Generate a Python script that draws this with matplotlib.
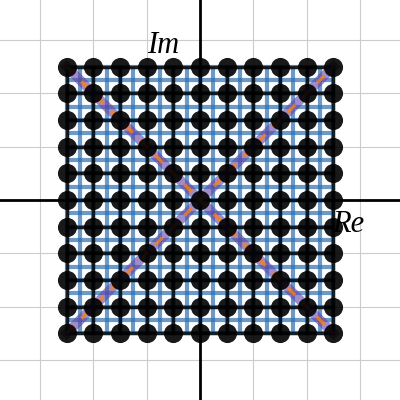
import numpy as np
import matplotlib
matplotlib.use("Agg")
import matplotlib.pyplot as plt

xs = list(range(-5, 6))
ys = list(range(-5, 6))
blue_lines = [i / 2 for i in range(-10, 11)]
grid_ticks = [-6, -4, -2, 2, 4, 6]

fig = plt.figure(figsize=(4, 4), dpi=100)
ax = fig.add_axes([0, 0, 1, 1])
ax.set_xlim(-7.5, 7.5)
ax.set_ylim(-7.5, 7.5)
ax.axis("off")

for g in grid_ticks:
    ax.axvline(g, color="#cccccc", lw=0.8, zorder=0)
    ax.axhline(g, color="#cccccc", lw=0.8, zorder=0)
ax.axvline(0, color="black", lw=2, zorder=1)
ax.axhline(0, color="black", lw=2, zorder=1)

for b in blue_lines:
    ax.plot([b, b], [-5, 5], color="#2d70b3", alpha=0.7, lw=3, zorder=2, solid_capstyle="butt")
    ax.plot([-5, 5], [b, b], color="#2d70b3", alpha=0.7, lw=3, zorder=2, solid_capstyle="butt")
for v in xs:
    ax.plot([v, v], [-5, 5], color="black", alpha=0.8, lw=2.5, zorder=3)
    ax.plot([-5, 5], [v, v], color="black", alpha=0.8, lw=2.5, zorder=3)

for d in (1, -1):
    ax.plot([-5, 5], [-5 * d, 5 * d], color="#6042a6", alpha=0.6, lw=7, zorder=4)
    ax.plot([-5, 5], [-5 * d, 5 * d], color="#fa7e19", alpha=0.8, lw=2.5, ls=(0, (3, 3)), zorder=5)

X, Y = np.meshgrid(xs, ys)
ax.scatter(X.ravel(), Y.ravel(), s=190, color="black", alpha=0.9, zorder=6, linewidths=0)

ax.text(-2.0, 5.5, "Im", fontsize=22, family="Liberation Serif", style="italic", zorder=7)
ax.text(4.95, -1.2, "Re", fontsize=22, family="Liberation Serif", style="italic", zorder=7)

fig.savefig("out.png", dpi=100)
